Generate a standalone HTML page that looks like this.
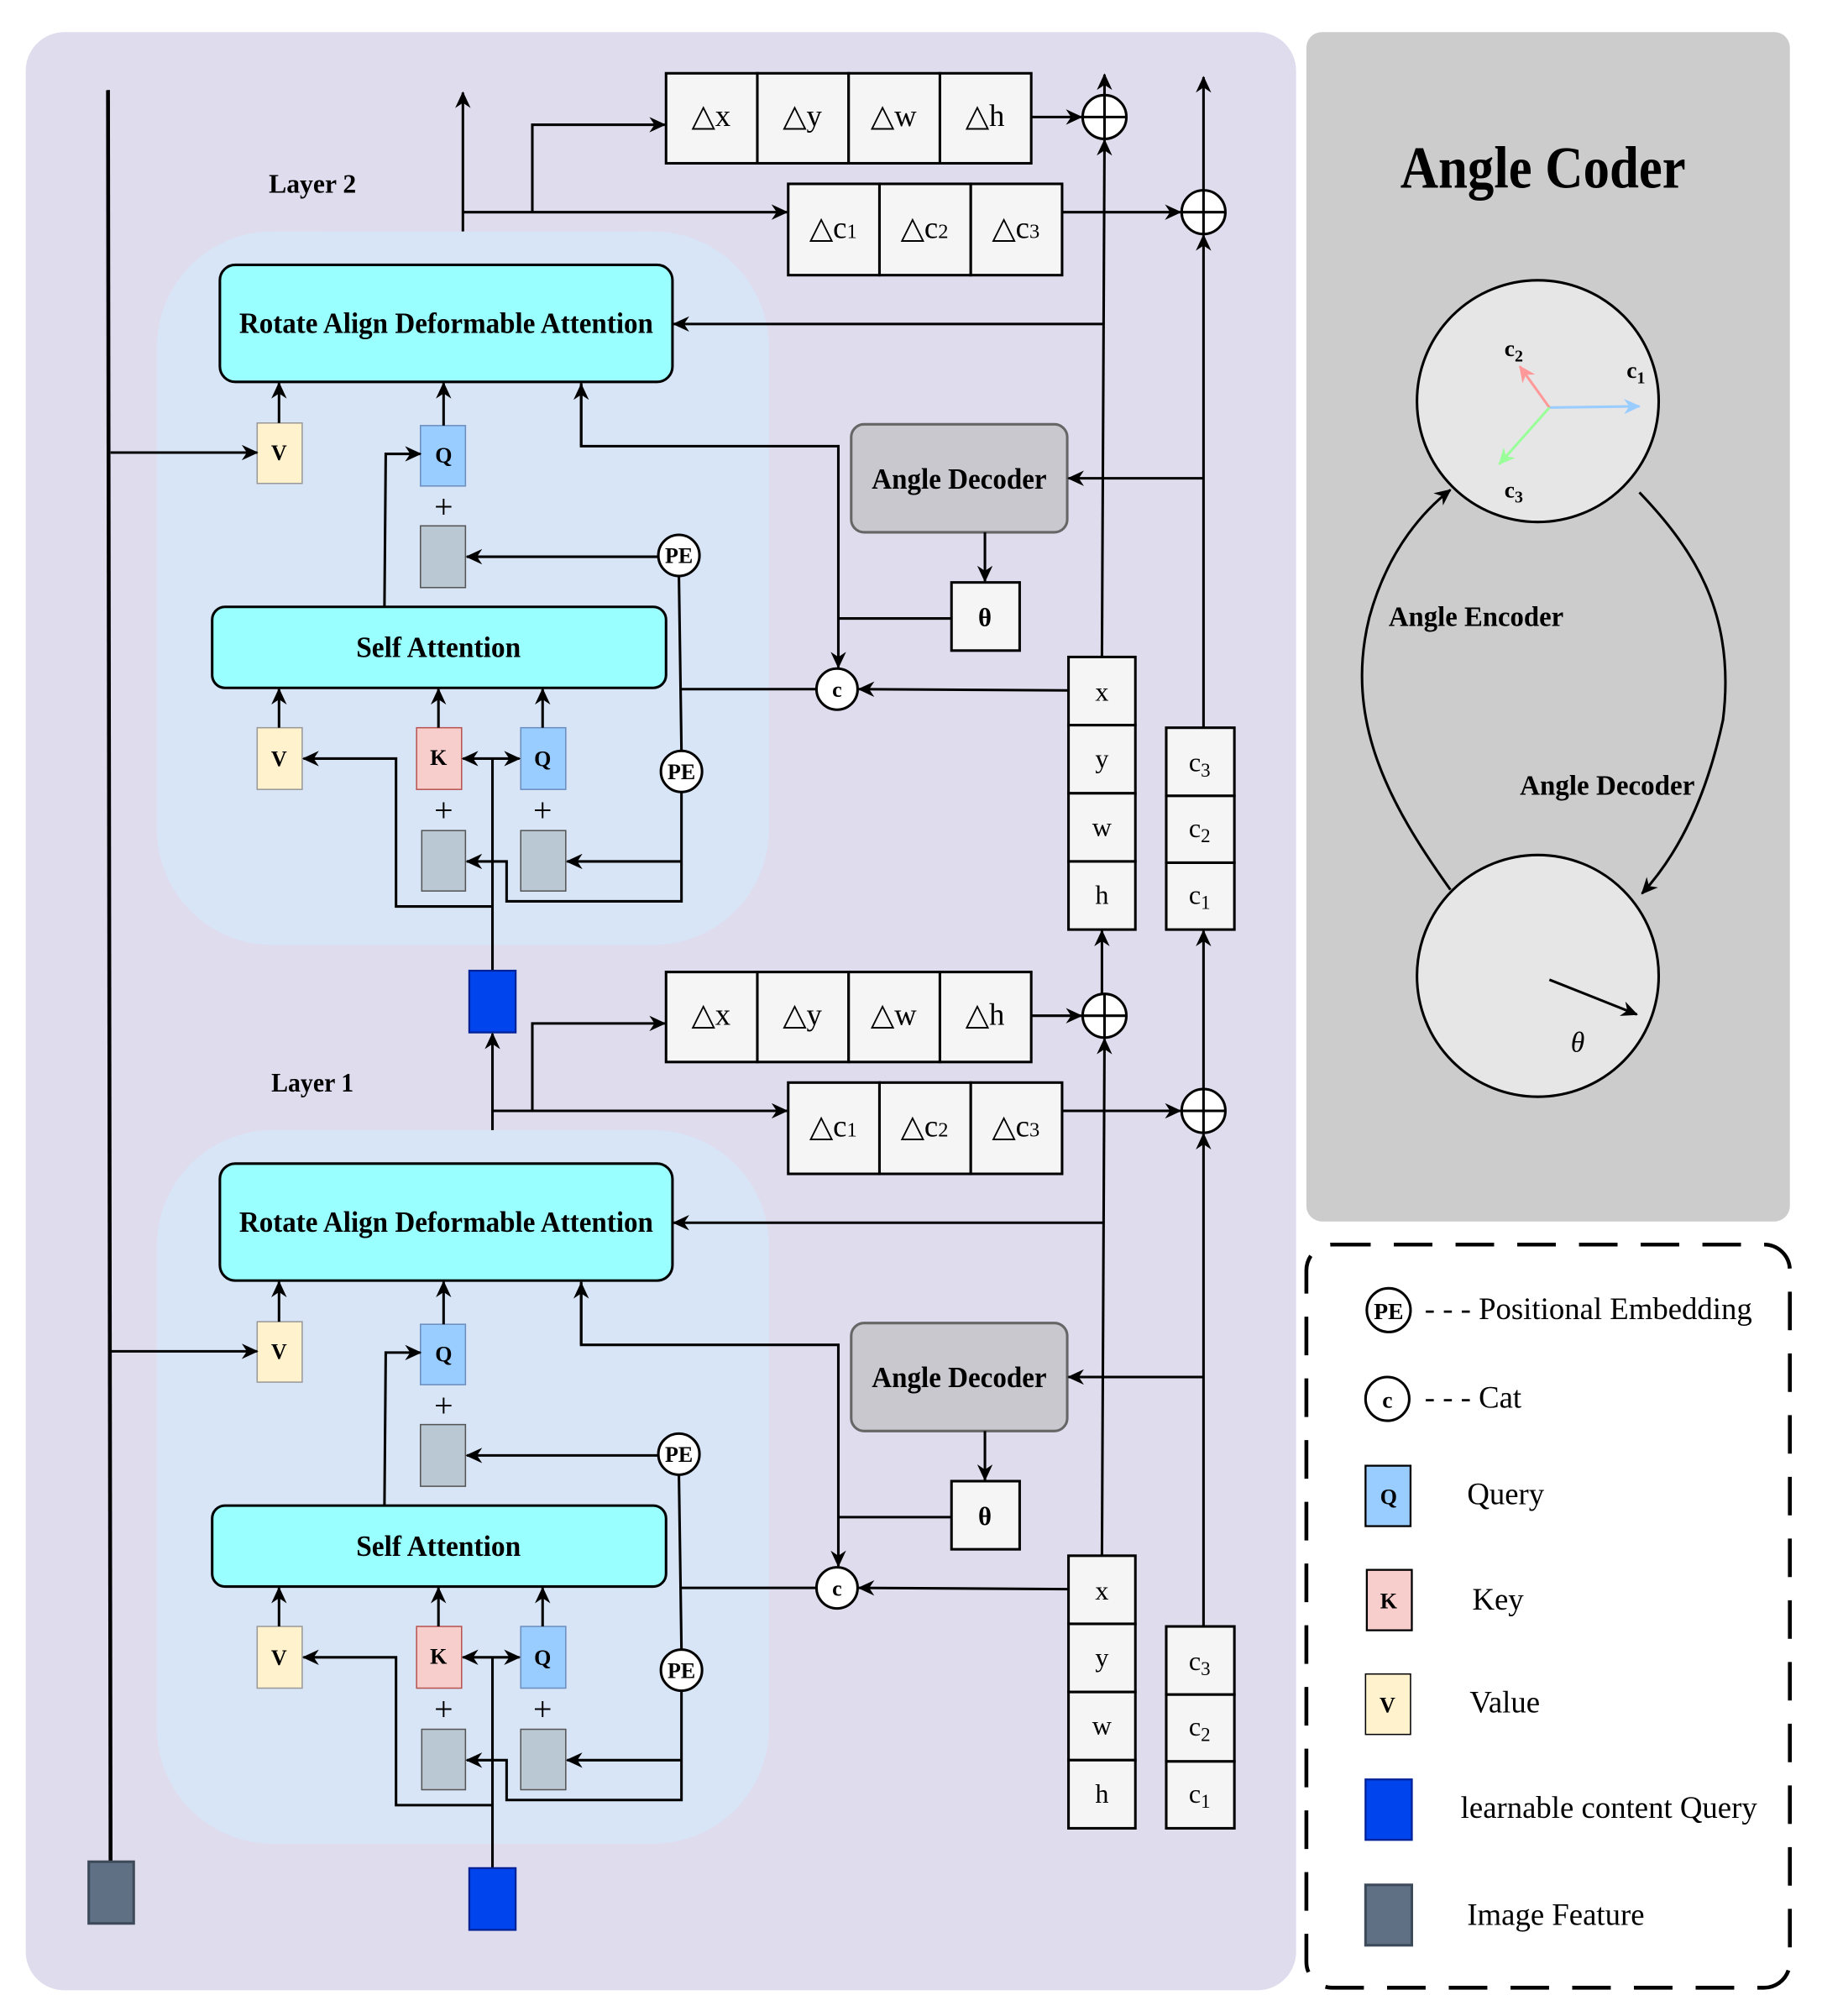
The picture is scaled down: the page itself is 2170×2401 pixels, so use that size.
<!DOCTYPE html>
<html><head><meta charset="utf-8"><style>
html,body{margin:0;padding:0;background:#fff}
svg{display:block}
.s{font-family:"Liberation Serif",serif}
.b{font-weight:bold}
</style></head><body>
<svg width="2170" height="2401" viewBox="0 0 1417 1568" preserveAspectRatio="none" xmlns="http://www.w3.org/2000/svg">
<defs>
<marker id="a" markerWidth="14" markerHeight="12" refX="12" refY="6" orient="auto" markerUnits="userSpaceOnUse"><path d="M0,0 L13,6 L0,12 L4,6 Z" fill="#000"/></marker>
<marker id="ab" markerWidth="14" markerHeight="12" refX="12" refY="6" orient="auto" markerUnits="userSpaceOnUse"><path d="M0,0 L13,6 L0,12 L4,6 Z" fill="#99ccff"/></marker>
<marker id="ar" markerWidth="14" markerHeight="12" refX="12" refY="6" orient="auto" markerUnits="userSpaceOnUse"><path d="M0,0 L13,6 L0,12 L4,6 Z" fill="#ff9999"/></marker>
<marker id="ag" markerWidth="14" markerHeight="12" refX="12" refY="6" orient="auto" markerUnits="userSpaceOnUse"><path d="M0,0 L13,6 L0,12 L4,6 Z" fill="#99ff99"/></marker>
</defs>
<rect x="20" y="25" width="988" height="1523" rx="30" fill="#dedced"/>
<rect x="1016" y="25" width="376" height="925" rx="12" fill="#cccccc"/>

<!-- trunk -->
<line x1="84" y1="70" x2="86" y2="1448" stroke="#000" stroke-width="3"/>
<rect x="69" y="1448" width="35" height="48" fill="#5f7085" stroke="#3d4a5a" stroke-width="2"/>

<g fill="none" stroke="#000" stroke-width="2">
<!-- ============ LAYER 2 ============ -->
</g>
<g>
<rect x="122" y="180" width="476" height="555" rx="90" fill="#d8e5f7"/>
<rect x="171" y="206" width="352" height="91" rx="12" fill="#99ffff" stroke="#000" stroke-width="2"/>
<rect x="165" y="472" width="353" height="63" rx="10" fill="#99ffff" stroke="#000" stroke-width="2"/>
<rect x="200" y="329" width="35" height="47" fill="#fff2cc" stroke="#999" stroke-width="1"/>
<rect x="327" y="331" width="35" height="47" fill="#99ccff" stroke="#6c8ebf" stroke-width="1"/>
<rect x="327" y="409" width="35" height="48" fill="#bac8d3" stroke="#555" stroke-width="1"/>
<rect x="200" y="566" width="35" height="48" fill="#fff2cc" stroke="#999" stroke-width="1"/>
<rect x="324" y="566" width="35" height="48" fill="#f8cecc" stroke="#b85450" stroke-width="1"/>
<rect x="405" y="566" width="35" height="48" fill="#99ccff" stroke="#6c8ebf" stroke-width="1"/>
<rect x="328" y="646" width="34" height="47" fill="#bac8d3" stroke="#555" stroke-width="1"/>
<rect x="405" y="646" width="35" height="47" fill="#bac8d3" stroke="#555" stroke-width="1"/>
<rect x="662" y="330" width="168" height="84" rx="10" fill="#c9c8cf" stroke="#666" stroke-width="2"/>
<rect x="740" y="453" width="53" height="53" fill="#f5f5f5" stroke="#000" stroke-width="2"/>
<g fill="#f5f5f5" stroke="#000" stroke-width="2">
<rect x="518" y="57" width="71" height="70"/><rect x="589" y="57" width="71" height="70"/><rect x="660" y="57" width="71" height="70"/><rect x="731" y="57" width="71" height="70"/>
<rect x="613" y="143" width="71" height="71"/><rect x="684" y="143" width="71" height="71"/><rect x="755" y="143" width="71" height="71"/>
<rect x="831" y="511" width="52" height="53"/><rect x="831" y="564" width="52" height="53"/><rect x="831" y="617" width="52" height="53"/><rect x="831" y="670" width="52" height="53"/>
<rect x="907" y="566" width="53" height="53"/><rect x="907" y="619" width="53" height="52"/><rect x="907" y="671" width="53" height="52"/>
</g>
<g fill="none" stroke="#000" stroke-width="2">
<line x1="86" y1="352" x2="200" y2="352" marker-end="url(#a)"/>
<line x1="217" y1="329" x2="217" y2="298" marker-end="url(#a)"/>
<line x1="345" y1="331" x2="345" y2="298" marker-end="url(#a)"/>
<polyline points="299,472 300,353 327,353" marker-end="url(#a)"/>
<line x1="512" y1="433" x2="363" y2="433" marker-end="url(#a)"/>
<polyline points="528,448 530,584"/>
<polyline points="530,616 530,701 394,701 394,670 363,670" marker-end="url(#a)"/>
<line x1="530" y1="670" x2="441" y2="670" marker-end="url(#a)"/>
<line x1="217" y1="566" x2="217" y2="536" marker-end="url(#a)"/>
<line x1="341" y1="566" x2="341" y2="536" marker-end="url(#a)"/>
<line x1="422" y1="566" x2="422" y2="536" marker-end="url(#a)"/>
<polyline points="383,705 308,705 308,590 236,590" marker-end="url(#a)"/>
<line x1="383" y1="755" x2="383" y2="590"/>
<line x1="383" y1="590" x2="360" y2="590" marker-end="url(#a)"/>
<line x1="383" y1="590" x2="404" y2="590" marker-end="url(#a)"/>
<line x1="530" y1="536" x2="635" y2="536"/>
<line x1="831" y1="537" x2="668" y2="536" marker-end="url(#a)"/>
<polyline points="652,481 740,481"/>
<polyline points="452,298 452,347 652,347 652,519" marker-end="url(#a)" />
<line x1="452" y1="347" x2="452" y2="299" marker-end="url(#a)"/>
<line x1="766" y1="414" x2="766" y2="452" marker-end="url(#a)"/>
<line x1="936" y1="372" x2="831" y2="372" marker-end="url(#a)"/>
<line x1="857" y1="511" x2="859" y2="109" marker-end="url(#a)"/>
<line x1="859" y1="252" x2="524" y2="252" marker-end="url(#a)"/>
<line x1="859" y1="74" x2="859" y2="58" marker-end="url(#a)"/>
<line x1="802" y1="91" x2="841" y2="91" marker-end="url(#a)"/>
<line x1="936" y1="566" x2="936" y2="183" marker-end="url(#a)"/>
<line x1="936" y1="148" x2="936" y2="60" marker-end="url(#a)"/>
<line x1="826" y1="165" x2="918" y2="165" marker-end="url(#a)"/>
<line x1="360" y1="180" x2="360" y2="72" marker-end="url(#a)"/>
<line x1="360" y1="165" x2="612" y2="165" marker-end="url(#a)"/>
<polyline points="414,165 414,97 517,97" marker-end="url(#a)"/>
<line x1="857" y1="773" x2="857" y2="724" marker-end="url(#a)"/>
<line x1="936" y1="848" x2="936" y2="724" marker-end="url(#a)"/>
</g>
<g fill="#fff" stroke="#000" stroke-width="2">
<circle cx="528" cy="432" r="16"/><circle cx="530" cy="600" r="16"/><circle cx="651" cy="536" r="16"/>
<circle cx="859" cy="91" r="17"/><circle cx="936" cy="165" r="17"/>
</g>
<g stroke="#000" stroke-width="2"><line x1="842" y1="91" x2="876" y2="91"/><line x1="859" y1="74" x2="859" y2="108"/><line x1="919" y1="165" x2="953" y2="165"/><line x1="936" y1="148" x2="936" y2="182"/></g>
<g class="s b" text-anchor="middle" font-size="17"><text x="528" y="438">PE</text><text x="530" y="606">PE</text><text x="651" y="542">c</text>
<text x="217" y="358">V</text><text x="345" y="360">Q</text><text x="217" y="596">V</text><text x="341" y="595">K</text><text x="422" y="596">Q</text></g>
<g class="s" text-anchor="middle" font-size="26"><text x="345" y="403">+</text><text x="345" y="639">+</text><text x="422" y="639">+</text></g>
<g class="s b" text-anchor="middle" font-size="23">
<text x="347" y="259" textLength="322" lengthAdjust="spacingAndGlyphs">Rotate Align Deformable Attention</text>
<text x="341" y="511" textLength="128" lengthAdjust="spacingAndGlyphs">Self Attention</text>
<text x="746" y="380" textLength="136" lengthAdjust="spacingAndGlyphs">Angle Decoder</text>
<text x="243" y="150" font-size="21" textLength="68" lengthAdjust="spacingAndGlyphs">Layer 2</text>
</g>
<g class="s" text-anchor="middle" font-size="24">
<text x="766" y="487" font-weight="bold" font-size="20">θ</text>
<text x="553" y="98">△x</text><text x="624" y="98">△y</text><text x="695" y="98">△w</text><text x="766" y="98">△h</text>
<text x="648" y="185">△c<tspan font-size="16">1</tspan></text><text x="719" y="185">△c<tspan font-size="16">2</tspan></text><text x="790" y="185">△c<tspan font-size="16">3</tspan></text>
<text x="857" y="545" font-size="21">x</text><text x="857" y="597" font-size="21">y</text><text x="857" y="650" font-size="21">w</text><text x="857" y="703" font-size="21">h</text>
<text x="933" y="600" font-size="21">c<tspan font-size="15" dy="4">3</tspan></text><text x="933" y="651" font-size="21">c<tspan font-size="15" dy="4">2</tspan></text><text x="933" y="703" font-size="21">c<tspan font-size="15" dy="4">1</tspan></text>
</g>
</g>
<rect x="365" y="755" width="36" height="48" fill="#0044ee" stroke="#002299" stroke-width="1.5"/>

<!-- ============ LAYER 1 ============ -->
<g transform="translate(0,699)">
<rect x="122" y="180" width="476" height="555" rx="90" fill="#d8e5f7"/>
<rect x="171" y="206" width="352" height="91" rx="12" fill="#99ffff" stroke="#000" stroke-width="2"/>
<rect x="165" y="472" width="353" height="63" rx="10" fill="#99ffff" stroke="#000" stroke-width="2"/>
<rect x="200" y="329" width="35" height="47" fill="#fff2cc" stroke="#999" stroke-width="1"/>
<rect x="327" y="331" width="35" height="47" fill="#99ccff" stroke="#6c8ebf" stroke-width="1"/>
<rect x="327" y="409" width="35" height="48" fill="#bac8d3" stroke="#555" stroke-width="1"/>
<rect x="200" y="566" width="35" height="48" fill="#fff2cc" stroke="#999" stroke-width="1"/>
<rect x="324" y="566" width="35" height="48" fill="#f8cecc" stroke="#b85450" stroke-width="1"/>
<rect x="405" y="566" width="35" height="48" fill="#99ccff" stroke="#6c8ebf" stroke-width="1"/>
<rect x="328" y="646" width="34" height="47" fill="#bac8d3" stroke="#555" stroke-width="1"/>
<rect x="405" y="646" width="35" height="47" fill="#bac8d3" stroke="#555" stroke-width="1"/>
<rect x="662" y="330" width="168" height="84" rx="10" fill="#c9c8cf" stroke="#666" stroke-width="2"/>
<rect x="740" y="453" width="53" height="53" fill="#f5f5f5" stroke="#000" stroke-width="2"/>
<g fill="#f5f5f5" stroke="#000" stroke-width="2">
<rect x="518" y="57" width="71" height="70"/><rect x="589" y="57" width="71" height="70"/><rect x="660" y="57" width="71" height="70"/><rect x="731" y="57" width="71" height="70"/>
<rect x="613" y="143" width="71" height="71"/><rect x="684" y="143" width="71" height="71"/><rect x="755" y="143" width="71" height="71"/>
<rect x="831" y="511" width="52" height="53"/><rect x="831" y="564" width="52" height="53"/><rect x="831" y="617" width="52" height="53"/><rect x="831" y="670" width="52" height="53"/>
<rect x="907" y="566" width="53" height="53"/><rect x="907" y="619" width="53" height="52"/><rect x="907" y="671" width="53" height="52"/>
</g>
<g fill="none" stroke="#000" stroke-width="2">
<line x1="86" y1="352" x2="200" y2="352" marker-end="url(#a)"/>
<line x1="217" y1="329" x2="217" y2="298" marker-end="url(#a)"/>
<line x1="345" y1="331" x2="345" y2="298" marker-end="url(#a)"/>
<polyline points="299,472 300,353 327,353" marker-end="url(#a)"/>
<line x1="512" y1="433" x2="363" y2="433" marker-end="url(#a)"/>
<polyline points="528,448 530,584"/>
<polyline points="530,616 530,701 394,701 394,670 363,670" marker-end="url(#a)"/>
<line x1="530" y1="670" x2="441" y2="670" marker-end="url(#a)"/>
<line x1="217" y1="566" x2="217" y2="536" marker-end="url(#a)"/>
<line x1="341" y1="566" x2="341" y2="536" marker-end="url(#a)"/>
<line x1="422" y1="566" x2="422" y2="536" marker-end="url(#a)"/>
<polyline points="383,705 308,705 308,590 236,590" marker-end="url(#a)"/>
<line x1="383" y1="755" x2="383" y2="590"/>
<line x1="383" y1="590" x2="360" y2="590" marker-end="url(#a)"/>
<line x1="383" y1="590" x2="404" y2="590" marker-end="url(#a)"/>
<line x1="530" y1="536" x2="635" y2="536"/>
<line x1="831" y1="537" x2="668" y2="536" marker-end="url(#a)"/>
<polyline points="652,481 740,481"/>
<polyline points="452,298 452,347 652,347 652,519" marker-end="url(#a)"/>
<line x1="452" y1="347" x2="452" y2="299" marker-end="url(#a)"/>
<line x1="766" y1="414" x2="766" y2="452" marker-end="url(#a)"/>
<line x1="936" y1="372" x2="831" y2="372" marker-end="url(#a)"/>
<line x1="857" y1="511" x2="859" y2="109" marker-end="url(#a)"/>
<line x1="859" y1="252" x2="524" y2="252" marker-end="url(#a)"/>
<line x1="802" y1="91" x2="841" y2="91" marker-end="url(#a)"/>
<line x1="936" y1="566" x2="936" y2="183" marker-end="url(#a)"/>
<line x1="826" y1="165" x2="918" y2="165" marker-end="url(#a)"/>
<line x1="383" y1="180" x2="383" y2="105" marker-end="url(#a)"/>
<line x1="383" y1="165" x2="612" y2="165" marker-end="url(#a)"/>
<polyline points="414,165 414,97 517,97" marker-end="url(#a)"/>
</g>
<g fill="#fff" stroke="#000" stroke-width="2">
<circle cx="528" cy="432" r="16"/><circle cx="530" cy="600" r="16"/><circle cx="651" cy="536" r="16"/>
<circle cx="859" cy="91" r="17"/><circle cx="936" cy="165" r="17"/>
</g>
<g stroke="#000" stroke-width="2"><line x1="842" y1="91" x2="876" y2="91"/><line x1="859" y1="74" x2="859" y2="108"/><line x1="919" y1="165" x2="953" y2="165"/><line x1="936" y1="148" x2="936" y2="182"/></g>
<g class="s b" text-anchor="middle" font-size="17"><text x="528" y="438">PE</text><text x="530" y="606">PE</text><text x="651" y="542">c</text>
<text x="217" y="358">V</text><text x="345" y="360">Q</text><text x="217" y="596">V</text><text x="341" y="595">K</text><text x="422" y="596">Q</text></g>
<g class="s" text-anchor="middle" font-size="26"><text x="345" y="403">+</text><text x="345" y="639">+</text><text x="422" y="639">+</text></g>
<g class="s b" text-anchor="middle" font-size="23">
<text x="347" y="259" textLength="322" lengthAdjust="spacingAndGlyphs">Rotate Align Deformable Attention</text>
<text x="341" y="511" textLength="128" lengthAdjust="spacingAndGlyphs">Self Attention</text>
<text x="746" y="380" textLength="136" lengthAdjust="spacingAndGlyphs">Angle Decoder</text>
<text x="243" y="150" font-size="21" textLength="64" lengthAdjust="spacingAndGlyphs">Layer 1</text>
</g>
<g class="s" text-anchor="middle" font-size="24">
<text x="766" y="487" font-weight="bold" font-size="20">θ</text>
<text x="553" y="98">△x</text><text x="624" y="98">△y</text><text x="695" y="98">△w</text><text x="766" y="98">△h</text>
<text x="648" y="185">△c<tspan font-size="16">1</tspan></text><text x="719" y="185">△c<tspan font-size="16">2</tspan></text><text x="790" y="185">△c<tspan font-size="16">3</tspan></text>
<text x="857" y="545" font-size="21">x</text><text x="857" y="597" font-size="21">y</text><text x="857" y="650" font-size="21">w</text><text x="857" y="703" font-size="21">h</text>
<text x="933" y="600" font-size="21">c<tspan font-size="15" dy="4">3</tspan></text><text x="933" y="651" font-size="21">c<tspan font-size="15" dy="4">2</tspan></text><text x="933" y="703" font-size="21">c<tspan font-size="15" dy="4">1</tspan></text>
</g>
</g>
<rect x="365" y="1453" width="36" height="48" fill="#0044ee" stroke="#002299" stroke-width="1.5"/>

<!-- Angle coder -->
<text class="s b" x="1200" y="146" text-anchor="middle" font-size="46" textLength="222" lengthAdjust="spacingAndGlyphs">Angle Coder</text>
<circle cx="1196" cy="312" r="94" fill="#e6e6e6" stroke="#000" stroke-width="2"/>
<circle cx="1196" cy="759" r="94" fill="#e6e6e6" stroke="#000" stroke-width="2"/>
<line x1="1205" y1="317" x2="1275" y2="316" stroke="#99ccff" stroke-width="2" marker-end="url(#ab)"/>
<line x1="1205" y1="317" x2="1182" y2="285" stroke="#ff9999" stroke-width="2" marker-end="url(#ar)"/>
<line x1="1205" y1="317" x2="1166" y2="361" stroke="#99ff99" stroke-width="2" marker-end="url(#ag)"/>
<g class="s b" font-size="18"><text x="1170" y="277">c<tspan font-size="13" dy="4">2</tspan></text><text x="1265" y="294">c<tspan font-size="13" dy="4">1</tspan></text><text x="1170" y="387">c<tspan font-size="13" dy="4">3</tspan></text></g>
<line x1="1205" y1="762" x2="1273" y2="789" stroke="#000" stroke-width="2" marker-end="url(#a)"/>
<text class="s" x="1227" y="818" font-size="22" font-style="italic" text-anchor="middle">θ</text>
<path d="M1128,692 C1080,625 1045,560 1065,480 C1080,425 1110,395 1128,381" fill="none" stroke="#000" stroke-width="2" marker-end="url(#a)"/>
<path d="M1275,383 C1320,430 1350,480 1340,560 C1325,630 1300,670 1277,695" fill="none" stroke="#000" stroke-width="2" marker-end="url(#a)"/>
<text class="s b" x="1148" y="487" text-anchor="middle" font-size="22" textLength="136" lengthAdjust="spacingAndGlyphs">Angle Encoder</text>
<text class="s b" x="1250" y="618" text-anchor="middle" font-size="22" textLength="136" lengthAdjust="spacingAndGlyphs">Angle Decoder</text>

<!-- Legend -->
<rect x="1016" y="968" width="376" height="578" rx="20" fill="none" stroke="#000" stroke-width="3" stroke-dasharray="30 18"/>
<circle cx="1080" cy="1019" r="17" fill="#fff" stroke="#000" stroke-width="2"/>
<text class="s b" x="1080" y="1026" text-anchor="middle" font-size="18">PE</text>
<circle cx="1079" cy="1088" r="17" fill="#fff" stroke="#000" stroke-width="2"/>
<text class="s b" x="1079" y="1095" text-anchor="middle" font-size="18">c</text>
<rect x="1062" y="1140" width="35" height="47" fill="#99ccff" stroke="#000" stroke-width="1.5"/>
<rect x="1063" y="1221" width="35" height="47" fill="#f8cecc" stroke="#000" stroke-width="1.5"/>
<rect x="1062" y="1302" width="35" height="47" fill="#fff2cc" stroke="#000" stroke-width="1"/>
<rect x="1062" y="1384" width="36" height="47" fill="#0044ee" stroke="#002299" stroke-width="1.5"/>
<rect x="1062" y="1466" width="36" height="47" fill="#5f7085" stroke="#3d4a5a" stroke-width="2"/>
<g class="s b" text-anchor="middle" font-size="17"><text x="1080" y="1170">Q</text><text x="1080" y="1251">K</text><text x="1079" y="1332">V</text></g>
<g class="s" font-size="24">
<text x="1108" y="1026">- - - Positional Embedding</text>
<text x="1108" y="1095">- - - Cat</text>
<text x="1141" y="1170">Query</text>
<text x="1145" y="1252">Key</text>
<text x="1143" y="1332">Value</text>
<text x="1136" y="1414">learnable content Query</text>
<text x="1141" y="1497">Image Feature</text>
</g>
</svg>
</body></html>
